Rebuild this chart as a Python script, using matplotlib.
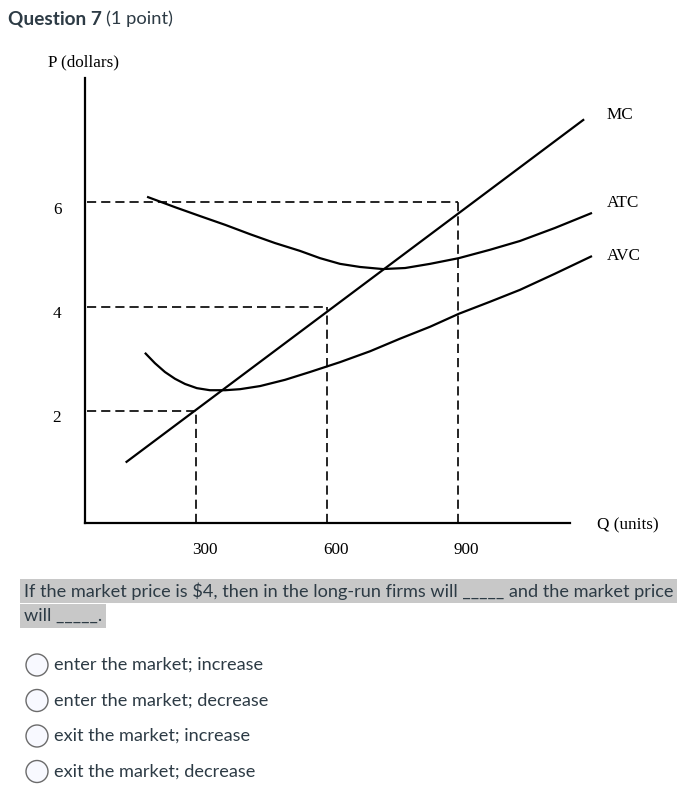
import matplotlib.pyplot as plt
from matplotlib.patches import Ellipse

W, H = 699, 794

# curves (Q in units, P in dollars)
mc_q = [140, 1190]
mc_p = [1.0, 7.6]

atc_q = [189, 253, 310, 368, 425, 482, 539, 585, 631, 677, 729, 780, 837,
         903, 974, 1043, 1123, 1208]
atc_p = [6.11, 5.91, 5.74, 5.57, 5.39, 5.22, 5.07, 4.93, 4.82, 4.76, 4.72, 4.74, 4.82,
         4.93, 5.09, 5.26, 5.51, 5.80]

avc_q = [184, 207, 230, 253, 276, 303, 333, 368, 402, 448, 505, 562, 631, 700,
         768, 837, 903, 974, 1043, 1123, 1208]
avc_p = [3.11, 2.91, 2.74, 2.61, 2.51, 2.43, 2.39, 2.39, 2.41, 2.47, 2.59, 2.74, 2.93, 3.14,
         3.38, 3.61, 3.86, 4.09, 4.32, 4.63, 4.97]

# dashed guides: (quantity, price)
guide_q = [300, 600, 900]
guide_p = [2, 4, 6]

curve_names = ['MC', 'ATC', 'AVC']
curve_label_y = [115, 203, 256]  # pixel rows of the labels

question = "If the market price is \\$4, then in the long-run firms will _____ and the market price"
question2 = "will _____."
options = ["enter the market; increase",
           "enter the market; decrease",
           "exit the market; increase",
           "exit the market; decrease"]

ink = '#2d3b45'
serif = 'Liberation Serif'
fs_serif = 12.3


def fx(x):
    return x / W


def fy(y):
    return 1 - y / H


fig = plt.figure(figsize=(W / 100, H / 100), dpi=100)
ax = fig.add_axes([82 / W, 1 - 530.1 / H, 532.7 / W, 462.8 / H])
ax.set_xlim(40, 1260)
ax.set_ylim(-0.3, 8.6)

q_axis, p_axis = 47, -0.163
for s in ['top', 'right']:
    ax.spines[s].set_visible(False)
ax.spines['left'].set_position(('data', q_axis))
ax.spines['left'].set_bounds(p_axis, 8.39)
ax.spines['bottom'].set_position(('data', p_axis))
ax.spines['bottom'].set_bounds(q_axis, 1157)
for s in ['left', 'bottom']:
    ax.spines[s].set_linewidth(1.6)
ax.set_xticks([])
ax.set_yticks([])
ax.patch.set_visible(False)

dash = (0, (5.5, 3))
for q, p in zip(guide_q, guide_p):
    ax.hlines(p, q_axis + 5, q, colors='black', lw=1.2, linestyles=dash)
    ax.vlines(q, p_axis, p, colors='black', lw=1.2, linestyles=dash)
    ax.annotate(str(p), (q_axis, p), xytext=(-28, -7), textcoords='offset pixels',
                ha='center', va='center', fontsize=fs_serif, family=serif)
    ax.annotate(str(q), (q, p_axis), xytext=(9, -27), textcoords='offset pixels',
                ha='center', va='center', fontsize=fs_serif, family=serif)

for qs, ps in [(mc_q, mc_p), (atc_q, atc_p), (avc_q, avc_p)]:
    ax.plot(qs, ps, color='black', lw=1.6, clip_on=False,
            solid_joinstyle='round', solid_capstyle='butt')

for name, y in zip(curve_names, curve_label_y):
    fig.text(fx(607), fy(y), name, ha='left', va='center', fontsize=fs_serif, family=serif)

fig.text(fx(83), fy(62), 'P (dollars)', ha='center', va='center', fontsize=fs_serif, family=serif)
fig.text(fx(597), fy(525), 'Q (units)', ha='left', va='center', fontsize=fs_serif, family=serif)

# header
fig.text(fx(8), fy(19), 'Question 7', ha='left', va='center', fontsize=13.7,
         family='Lato', weight='bold', color=ink)
fig.text(fx(106), fy(19), '(1 point)', ha='left', va='center', fontsize=13.2,
         family='Lato', color=ink)

# question with grey highlight
hl = dict(boxstyle='square,pad=0.2', fc='#c8c8c8', ec='none')
fig.text(fx(24), fy(591), question, ha='left', va='center', fontsize=13.05,
         family='Lato', color=ink, bbox=hl)
fig.text(fx(24), fy(616), question2, ha='left', va='center', fontsize=13.05,
         family='Lato', color=ink, bbox=hl)

for i, opt in enumerate(options):
    y = 665 + i * 35.5
    fig.add_artist(Ellipse((fx(37), fy(y)), 22 / W, 22 / H, transform=fig.transFigure,
                           fc='#f8f9ff', ec='#6b6b6b', lw=1.0))
    fig.text(fx(54), fy(y), opt, ha='left', va='center', fontsize=13.1,
             family='Lato', color=ink)

fig.savefig('out.png', dpi=100)
